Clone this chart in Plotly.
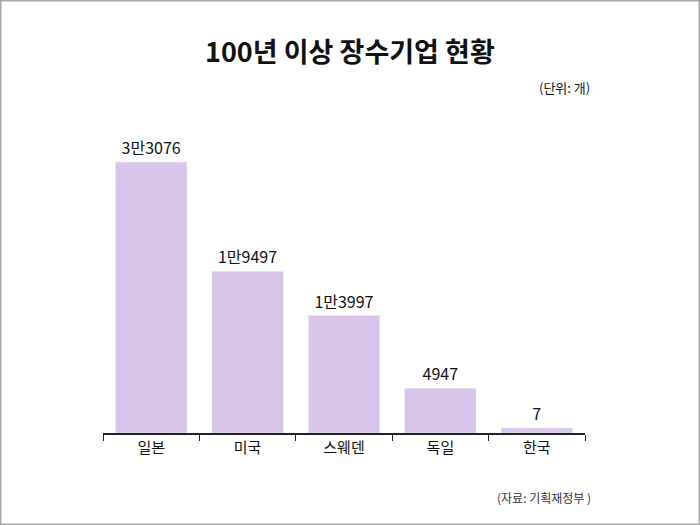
import plotly.graph_objects as go

countries = ["일본", "미국", "스웨덴", "독일", "한국"]
companies = [33076, 19497, 13997, 4947, 7]
value_labels = ["3만3076", "1만9497", "1만3997", "4947", "7"]

W, H = 700, 525
font = "Noto Sans CJK KR"
floor = -600  # small visible stub under every bar, as in the original

fig = go.Figure(go.Bar(
    x=countries, y=[v - floor for v in companies], base=floor,
    text=value_labels, textposition="outside",
    textfont=dict(size=16, color="#111"), cliponaxis=False,
    marker_color="#d9c4ea", width=0.74, hoverinfo="skip",
))

fig.update_layout(
    width=W, height=H, margin=dict(l=0, r=0, t=0, b=0),
    paper_bgcolor="white", plot_bgcolor="white",
    font=dict(family=font, color="#111"), showlegend=False,
    xaxis=dict(domain=[103 / W, 585 / W], type="category", tickson="boundaries",
               ticks="outside", ticklen=6, tickcolor="#222", showline=True,
               linecolor="#222", linewidth=1.5, tickfont=dict(size=15)),
    yaxis=dict(domain=[(H - 433) / H, (H - 120) / H], range=[floor, 38300],
               visible=False, showgrid=False),
    shapes=[dict(type="rect", xref="paper", yref="paper", x0=0, y0=0, x1=1, y1=1,
                 line=dict(color="#a8a8a8", width=3))],
    annotations=[
        dict(text="<b>100년 이상 장수기업 현황</b>", x=0.5, y=1 - 50 / H,
             xref="paper", yref="paper", yanchor="middle", showarrow=False,
             font=dict(size=27)),
        dict(text="(단위: 개)", x=592 / W, y=1 - 88 / H, xref="paper", yref="paper",
             xanchor="right", yanchor="middle", showarrow=False, font=dict(size=13)),
        dict(text="(자료: 기획재정부 )", x=593 / W, y=1 - 497 / H, xref="paper",
             yref="paper", xanchor="right", yanchor="middle", showarrow=False,
             font=dict(size=12, color="#333")),
    ],
)

fig.write_html("out.html", config={"displayModeBar": False},
               post_script="document.body.style.margin='0';")
